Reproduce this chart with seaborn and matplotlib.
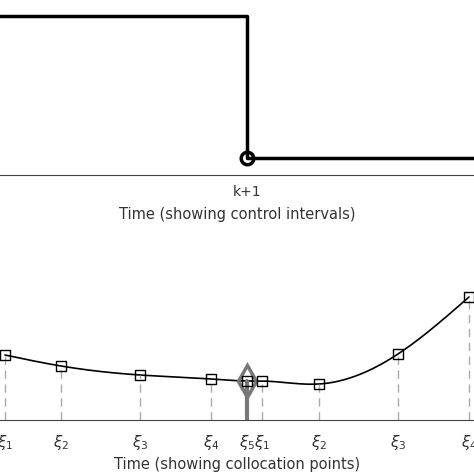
import numpy as np
import matplotlib
matplotlib.use("Agg")
import matplotlib.pyplot as plt
import seaborn as sns

sns.set_style("white")
plt.rcParams['font.family'] = ['DejaVu Sans']

tick_pos = [5, 61, 140, 211, 247, 262, 319, 398, 469]
tick_labels = [r'$\xi_1$', r'$\xi_2$', r'$\xi_3$', r'$\xi_4$', r'$\xi_5$', r'$\xi_1$', r'$\xi_2$', r'$\xi_3$', r'$\xi_4$']
state = [0.65, 0.54, 0.45, 0.41, 0.39, 0.39, 0.36, 0.66, 1.23]
ctrl_x = [0, 247, 247, 474]
ctrl_y = [1, 1, 0, 0]

def natural_spline(x, y, xs):
    x = np.asarray(x, float); y = np.asarray(y, float)
    n = len(x); h = np.diff(x)
    A = np.zeros((n, n)); b = np.zeros(n)
    A[0, 0] = A[-1, -1] = 1
    for i in range(1, n - 1):
        A[i, i-1] = h[i-1]; A[i, i] = 2*(h[i-1]+h[i]); A[i, i+1] = h[i]
        b[i] = 3*((y[i+1]-y[i])/h[i] - (y[i]-y[i-1])/h[i-1])
    c = np.linalg.solve(A, b)
    out = np.empty_like(xs)
    for k, xv in enumerate(xs):
        i = min(max(np.searchsorted(x, xv) - 1, 0), n - 2)
        d = xv - x[i]
        bb = (y[i+1]-y[i])/h[i] - h[i]*(2*c[i]+c[i+1])/3
        dd = (c[i+1]-c[i])/(3*h[i])
        out[k] = y[i] + bb*d + c[i]*d**2 + dd*d**3
    return out

fig = plt.figure(figsize=(4.74, 4.74), dpi=100)
ax1 = fig.add_axes([0, 1-175/474, 1, 175/474])
ax2 = fig.add_axes([0, 1-420/474, 1, 135/474])

for ax in (ax1, ax2):
    for s in ['top', 'left', 'right']:
        ax.spines[s].set_visible(False)
    ax.spines['bottom'].set_color('#444444')
    ax.set_xlim(0, 474)
    ax.set_yticks([])
    ax.set_xticks(tick_pos)
    ax.tick_params(axis='x', direction='in', length=5, color='#444444', labelsize=10, labelcolor='#333333', pad=7)

# top
sns.lineplot(x=ctrl_x, y=ctrl_y, ax=ax1, color='black', lw=2.5, sort=False, estimator=None)
ax1.plot([247], [0], marker='o', ms=9, mfc='none', mec='black', mew=2.5)
ax1.set_ylim(-17/142, 1 + 16/142)
ax1.set_xticklabels(['' if i != 4 else 'k+1' for i in range(len(tick_pos))])
ax1.set_xlabel('Time (showing control intervals)', fontsize=10.5, color='#333333', labelpad=6)

# bottom
xs = np.linspace(tick_pos[0], tick_pos[-1], 400)
ax2.plot(xs, natural_spline(tick_pos, state, xs), color='black', lw=1.2)
for x, y in zip(tick_pos, state):
    ax2.plot([x, x], [0, y], ls=(0, (6, 4)), color='#aaaaaa', lw=1)
ax2.plot([247, 247], [0, state[4]], color='#777777', lw=3)
ax2.plot([247], [state[4]], marker='d', ms=16, mfc='none', mec='#777777', mew=2.5)
sns.scatterplot(x=tick_pos, y=state, ax=ax2, marker='s', s=45, facecolor='none', edgecolor='black', linewidth=1, zorder=5)
ax2.set_ylim(0, 1.35)
ax2.set_xticklabels(tick_labels, fontsize=11)
ax2.tick_params(axis='x', pad=9)
ax2.set_xlabel('Time (showing collocation points)', fontsize=10.5, color='#333333', labelpad=4)

fig.savefig('out.png', dpi=100)
